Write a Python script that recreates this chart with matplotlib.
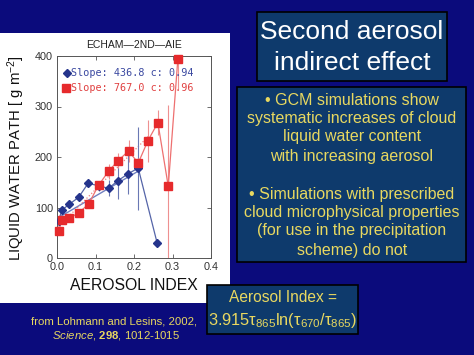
import matplotlib
matplotlib.use("Agg")
import matplotlib.pyplot as plt
from matplotlib.patches import Rectangle

plt.rcParams['font.family'] = ['Liberation Sans', 'DejaVu Sans']
plt.rcParams['mathtext.fontset'] = 'custom'
plt.rcParams['mathtext.rm'] = 'Liberation Sans'
plt.rcParams['mathtext.it'] = 'Liberation Sans:italic'
plt.rcParams['mathtext.bf'] = 'Liberation Sans:bold'

# ---- data ----
blue_x = [0.004, 0.013, 0.031, 0.056, 0.081, 0.108, 0.134, 0.158, 0.185, 0.211, 0.260]
blue_y = [74, 95, 106, 120, 148, 143, 138, 153, 167, 178, 30]
blue_err = [3, 3, 3, 3, 3, 10, 16, 37, 40, 82, 0]
red_x = [0.004, 0.013, 0.031, 0.056, 0.082, 0.108, 0.134, 0.159, 0.186, 0.211, 0.236, 0.262, 0.289, 0.314]
red_y = [53, 75, 79, 89, 107, 144, 172, 193, 212, 188, 232, 268, 142, 395]
red_err = [3, 3, 3, 3, 5, 8, 15, 15, 22, 10, 42, 25, 160, 60]
blue_fit_x = [0.004, 0.211]
blue_fit_y = [80, 172]
red_fit_x = [0.004, 0.24]
red_fit_y = [62, 243]
legend_labels = ["Slope: 436.8 c: 0.94", "Slope: 767.0 c: 0.96"]
xticks = [0.0, 0.1, 0.2, 0.3, 0.4]
yticks = [0, 100, 200, 300, 400]

BG = '#0b0b7c'
BOX = '#0e3a6c'
YEL = '#e8d860'
BLUE = '#25348c'
RED = '#e62a2c'

fig = plt.figure(figsize=(4.74, 3.55), dpi=100)
fig.patch.set_facecolor(BG)

# white panel
fig.add_artist(Rectangle((0, 1 - 303/355), 230/474, 270/355, transform=fig.transFigure,
                         facecolor='white', edgecolor='none', zorder=0))

ax = fig.add_axes([57/474, 1 - 258/355, 154/474, 202/355])
ax.set_facecolor('white')

ax.plot(blue_fit_x, blue_fit_y, color='#7080c0', lw=1.0, zorder=2)
ax.plot(red_fit_x, red_fit_y, color='#f08080', lw=0.9, ls=':', zorder=2)
ax.errorbar(blue_x, blue_y, yerr=blue_err, fmt='none', ecolor='#6a78b4', elinewidth=0.8, zorder=2)
ax.errorbar(red_x, red_y, yerr=red_err, fmt='none', ecolor='#ee9090', elinewidth=0.8, zorder=2)
ax.plot(blue_x, blue_y, color='#5565a8', lw=0.9, zorder=3)
ax.plot(red_x, red_y, color='#ee7070', lw=0.9, zorder=3)
ax.plot(blue_x, blue_y, ls='none', marker='D', ms=4.3, color=BLUE, zorder=4)
ax.plot(red_x, red_y, ls='none', marker='s', ms=5.6, color=RED, zorder=5, clip_on=False)

ax.set_xlim(0, 0.4)
ax.set_ylim(0, 400)
ax.set_xticks(xticks)
ax.set_xticklabels([f"{v:.1f}" for v in xticks])
ax.set_yticks(yticks)
ax.tick_params(direction='in', length=3, width=0.6, top=True, right=True,
               labelsize=7.8, labelcolor='#333333', color='#555555', pad=3)
for s in ax.spines.values():
    s.set_linewidth(0.7)
    s.set_color('#555555')

ax.set_title("ECHAM\u20142ND\u2014AIE", fontsize=7.5, color='#222222', pad=6)

# legend text
ax.plot([0.026], [366], marker='D', ms=4.3, color=BLUE, clip_on=False, zorder=6)
ax.plot([0.024], [336], marker='s', ms=5.6, color=RED, clip_on=False, zorder=6)
ax.text(0.037, 366, legend_labels[0], family='DejaVu Sans Mono', fontsize=7.3,
        color='#3a48a0', va='center', ha='left', zorder=6)
ax.text(0.037, 336, legend_labels[1], family='DejaVu Sans Mono', fontsize=7.3,
        color='#e04040', va='center', ha='left', zorder=6)

fig.text(134/474, 1 - 286/355, "AEROSOL INDEX", fontsize=11.3, color='#111111',
         ha='center', va='center')
fig.text(16/474, 0.555, r"LIQUID WATER PATH [ g m$^{-2}$]", fontsize=10.7, color='#111111',
         ha='center', va='center', rotation=90)

# title box
fig.add_artist(Rectangle((257/474, 1 - 81/355), 190/474, 69/355, transform=fig.transFigure,
                         facecolor=BOX, edgecolor='black', lw=1.2))
fig.text(352/474, 1 - 32/355, "Second aerosol", fontsize=19, color='white', ha='center', va='center')
fig.text(352/474, 1 - 63/355, "indirect effect", fontsize=19, color='white', ha='center', va='center')

# bullet box
fig.add_artist(Rectangle((237/474, 1 - 262/355), 229/474, 175/355, transform=fig.transFigure,
                         facecolor=BOX, edgecolor='black', lw=1.2))
lines1 = ["\u2022 GCM simulations show", "systematic increases of cloud",
          "liquid water content", "with increasing aerosol"]
ys1 = [100, 118, 137, 156]
lines2 = ["\u2022 Simulations with prescribed", "cloud microphysical properties",
          "(for use in the precipitation", "scheme) do not"]
ys2 = [194, 213, 231, 250]
for t, y in zip(lines1 + lines2, ys1 + ys2):
    fig.text(352/474, 1 - y/355, t, fontsize=11.5, color=YEL, ha='center', va='center')

# formula box
fig.add_artist(Rectangle((207/474, 1 - 334/355), 151/474, 49/355, transform=fig.transFigure,
                         facecolor=BOX, edgecolor='black', lw=1.2, zorder=3))
fig.text(283/474, 1 - 297/355, "Aerosol Index =", fontsize=11.2, color=YEL,
         ha='center', va='center', zorder=4)
fig.text(282/474, 1 - 321/355, r"3.915$\mathrm{\tau_{865}}$ln($\mathrm{\tau_{670}}$/$\mathrm{\tau_{865}}$)",
         fontsize=11.8, color=YEL, ha='center', va='center', zorder=4)

# citation
fig.text(114/474, 1 - 322/355, "from Lohmann and Lesins, 2002,", fontsize=8.2, color=YEL,
         ha='center', va='center')
fig.text(116/474, 1 - 336/355, r"$\mathit{Science}$, $\mathbf{298}$, 1012-1015", fontsize=8.2,
         color=YEL, ha='center', va='center')

fig.savefig("out.png", dpi=100, facecolor=fig.get_facecolor())
